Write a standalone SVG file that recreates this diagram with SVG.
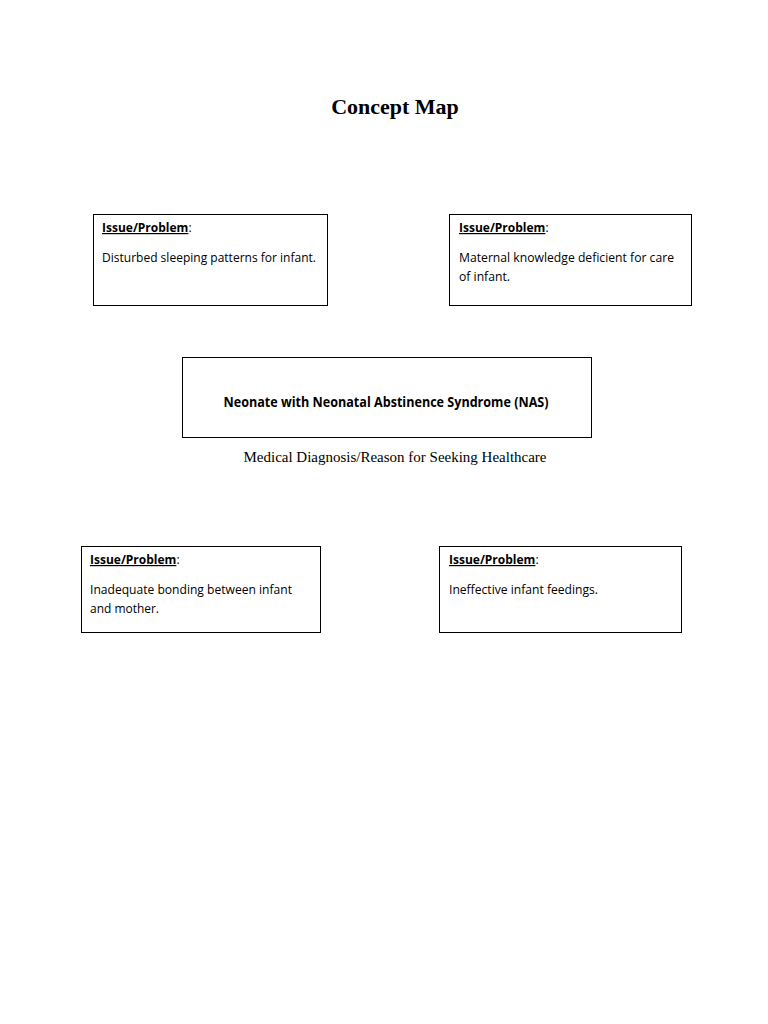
<svg xmlns="http://www.w3.org/2000/svg" width="768" height="1024" viewBox="0 0 768 1024">
<style>
.box{fill:#fff;stroke:#000;stroke-width:1}
.t{font-family:"Open Sans","Noto Sans",sans-serif;font-size:12.5px;fill:#000}
.h{font-family:"Open Sans","Noto Sans",sans-serif;font-size:12px;fill:#000}
.b{font-weight:bold;text-decoration:underline}
.c{font-family:"Open Sans","Noto Sans",sans-serif;font-size:13.5px;font-weight:bold;fill:#000}
.s{font-family:"Liberation Serif",serif;fill:#000}
</style>
<rect width="768" height="1024" fill="#fff"/>
<text class="s" x="395" y="114" font-size="22" font-weight="bold" text-anchor="middle">Concept Map</text>
<g id="n1">
<rect class="box" x="93.5" y="214.5" width="234" height="91"/>
<text class="h" x="102" y="232"><tspan class="b">Issue/Problem</tspan>:</text>
<text class="t" x="102" y="261.5" textLength="214" lengthAdjust="spacingAndGlyphs">Disturbed sleeping patterns for infant.</text>
</g>
<g id="n2">
<rect class="box" x="449.5" y="214.5" width="242" height="91"/>
<text class="h" x="459" y="232"><tspan class="b">Issue/Problem</tspan>:</text>
<text class="t" x="459" y="261.5" textLength="215" lengthAdjust="spacingAndGlyphs">Maternal knowledge deficient for care</text>
<text class="t" x="459" y="280.5" textLength="51" lengthAdjust="spacingAndGlyphs">of infant.</text>
</g>
<g id="center">
<rect class="box" x="182.5" y="357.5" width="409" height="80"/>
<text class="c" x="386" y="407" text-anchor="middle" textLength="325" lengthAdjust="spacingAndGlyphs">Neonate with Neonatal Abstinence Syndrome (NAS)</text>
<text class="s" x="395" y="462" font-size="15" text-anchor="middle" textLength="303" lengthAdjust="spacingAndGlyphs">Medical Diagnosis/Reason for Seeking Healthcare</text>
</g>
<g id="n3">
<rect class="box" x="81.5" y="546.5" width="239" height="86"/>
<text class="h" x="90" y="564"><tspan class="b">Issue/Problem</tspan>:</text>
<text class="t" x="90" y="593.5" textLength="202" lengthAdjust="spacingAndGlyphs">Inadequate bonding between infant</text>
<text class="t" x="90" y="612.5" textLength="69" lengthAdjust="spacingAndGlyphs">and mother.</text>
</g>
<g id="n4">
<rect class="box" x="439.5" y="546.5" width="242" height="86"/>
<text class="h" x="449" y="564"><tspan class="b">Issue/Problem</tspan>:</text>
<text class="t" x="449" y="593.5" textLength="149" lengthAdjust="spacingAndGlyphs">Ineffective infant feedings.</text>
</g>
<g id="connectors"/>
</svg>
